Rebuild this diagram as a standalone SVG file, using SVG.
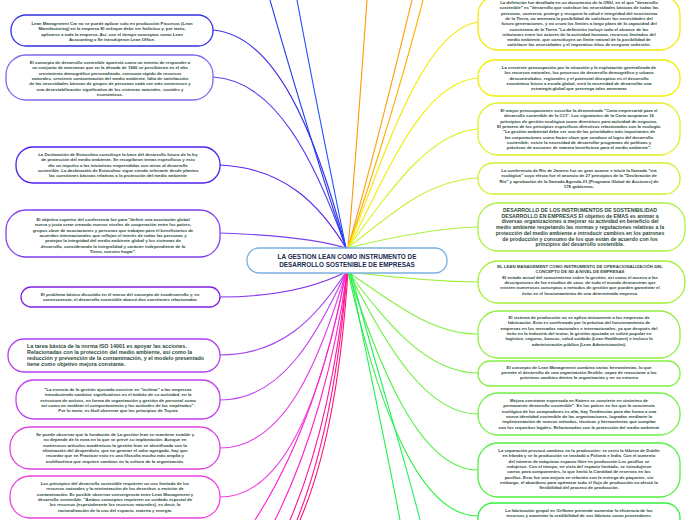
<svg xmlns="http://www.w3.org/2000/svg" width="697" height="520" viewBox="0 0 697 520">
<style>
.n{fill:#fff;stroke-width:1.3}
.t{font-family:"Liberation Sans",Arial,sans-serif;font-weight:bold;font-size:4.3px;fill:#2d4a3a;text-anchor:middle}
.tb{font-family:"Liberation Sans",Arial,sans-serif;font-weight:bold;font-size:5.4px;fill:#2d4a3a}
.c{fill:none;stroke-width:1.1}
</style>
<rect width="697" height="520" fill="#fff"/>
<g id="connectors">
<path class="c" stroke="#3a30e0" d="M213,30 C275,35 315,130 346,248"/>
<path class="c" stroke="#5a40f0" d="M213,77 C275,80 315,160 346,248"/>
<path class="c" stroke="#5a20f0" d="M220,165 C285,168 320,205 346,248"/>
<path class="c" stroke="#8040f0" d="M220,233 C280,235 320,240 346,248"/>
<path class="c" stroke="#2040f0" d="M346,248 C320,170 290,70 270,0"/>
<path class="c" stroke="#2050ff" d="M346,248 C330,170 310,70 297,0"/>
<path class="c" stroke="#ff9900" d="M348,248 C355,170 362,70 367,0"/>
<path class="c" stroke="#ffa010" d="M348,248 C370,170 395,70 412,0"/>
<path class="c" stroke="#ffb000" d="M348,248 C375,170 405,70 423,0"/>
<path class="c" stroke="#f5e800" d="M348,248 C380,170 420,30 478,22"/>
<path class="c" stroke="#f0f000" d="M348,248 C385,180 420,82 478,78"/>
<path class="c" stroke="#d8f020" d="M348,248 C390,190 430,132 478,129"/>
<path class="c" stroke="#c8f030" d="M348,248 C395,210 430,180 478,178"/>
<path class="c" stroke="#a8f040" d="M348,248 C400,235 440,228 478,227"/>
<path class="c" stroke="#8030f0" d="M346,272 C320,285 280,297 220,297"/>
<path class="c" stroke="#a040f0" d="M346,272 C315,320 280,355 220,355"/>
<path class="c" stroke="#c040f0" d="M346,272 C315,340 280,400 220,400"/>
<path class="c" stroke="#e040e8" d="M346,272 C320,360 285,448 220,448"/>
<path class="c" stroke="#f040e0" d="M346,272 C325,380 290,497 220,497"/>
<path class="c" stroke="#ff20d0" d="M346,272 C330,360 300,450 255,520"/>
<path class="c" stroke="#ff20c0" d="M347,272 C335,360 310,450 275,520"/>
<path class="c" stroke="#ff10a0" d="M347,272 C338,360 320,450 290,520"/>
<path class="c" stroke="#ff1090" d="M347,272 C340,360 325,450 297,520"/>
<path class="c" stroke="#ff1070" d="M348,272 C342,360 330,450 300,520"/>
<path class="c" stroke="#98f030" d="M348,272 C400,278 440,282 478,282"/>
<path class="c" stroke="#88f040" d="M348,272 C390,300 430,334 478,334"/>
<path class="c" stroke="#78f040" d="M348,272 C385,320 425,373 478,373"/>
<path class="c" stroke="#68f040" d="M348,272 C380,330 420,414 478,414"/>
<path class="c" stroke="#50f040" d="M348,272 C375,350 415,470 478,470"/>
<path class="c" stroke="#30f040" d="M348,272 C370,370 410,516 478,516"/>
<path class="c" stroke="#20f050" d="M350,272 C365,350 385,440 400,520"/>
<path class="c" stroke="#20f060" d="M351,272 C370,350 400,440 420,520"/>
</g>
<g id="center">
<rect x="247" y="248" width="200" height="25" rx="12" fill="#fff" stroke="#7ab0e0" stroke-width="1.3"/>
<text font-family="Liberation Sans,Arial,sans-serif" font-weight="bold" font-size="6.4" fill="#1a2a50" text-anchor="middle"><tspan x="347" y="259">LA GESTION LEAN COMO INSTRUMENTO DE</tspan><tspan x="347" y="266.5">DESARROLLO SOSTENIBLE DE EMPRESAS</tspan></text>
</g>
<g id="l1"><rect class="n" x="11" y="15" width="202" height="31" rx="15" stroke="#3030e0"/>
<text class="t"><tspan x="112" y="25">Lean Management Car no se puede aplicar solo en producción Procesos (Lean</tspan><tspan x="112" y="30.3">Manufacturing) en la empresa El enfoque debe ser holístico y, por tanto,</tspan><tspan x="112" y="35.6">aplicarse a toda la empresa. Así, con el tiempo conceptos como Lean</tspan><tspan x="112" y="40.9">Accounting o Se introdujeron Lean Office.</tspan></text></g>
<g id="l2"><rect class="n" x="6" y="55" width="207" height="45" rx="20" stroke="#7a6af0" stroke-width="2"/>
<text class="t"><tspan x="110" y="64">El concepto de desarrollo sostenible apareció como un intento de responder a</tspan><tspan x="110" y="69.3">un conjunto de amenazas que en la década de 1960 se percibieron en el alto</tspan><tspan x="110" y="74.6">crecimiento demográfico personalizado, consumo rápido de recursos</tspan><tspan x="110" y="79.9">naturales, creciente contaminación del medio ambiente, falta de satisfacción</tspan><tspan x="110" y="85.2">de las necesidades básicas de grupos de personas cada vez más numerosos y</tspan><tspan x="110" y="90.5">una desestabilización significativa de los sistemas naturales, sociales y</tspan><tspan x="110" y="95.8">económicos.</tspan></text></g>
<g id="l3"><rect class="n" x="16" y="147" width="204" height="36" rx="17" stroke="#5020f0"/>
<text class="t"><tspan x="118" y="156">La Declaración de Estocolmo constituye la base del desarrollo futuro de la ley</tspan><tspan x="118" y="161.3">de protección del medio ambiente. Se recopilaron temas específicos y esto</tspan><tspan x="118" y="166.6">dio un impulso a las iniciativas emprendidas con miras al desarrollo</tspan><tspan x="118" y="171.9">sostenible. La declaración de Estocolmo sigue siendo relevante desde planteo</tspan><tspan x="118" y="177.2">las cuestiones básicas relativas a la protección del medio ambiente</tspan></text></g>
<g id="l4"><rect class="n" x="6" y="210" width="214" height="47" rx="20" stroke="#8040f0" stroke-width="1.6"/>
<text class="t"><tspan x="113" y="221">El objetivo superior del conferencia fue para "definir una asociación global</tspan><tspan x="113" y="226.3">nueva y justa crear creando nuevos niveles de cooperación entre los países,</tspan><tspan x="113" y="231.6">grupos clave de asociaciones y personas que trabajan para el beneficiarios de</tspan><tspan x="113" y="236.9">acuerdos internacionales que reflejan el interés de todas las personas y</tspan><tspan x="113" y="242.2">protejan la integridad del medio ambiente global y los sistemas de</tspan><tspan x="113" y="247.5">desarrollo, considerando la integralidad y carácter independiente de la</tspan><tspan x="113" y="252.8">Tierra, nuestro hogar".</tspan></text></g>
<g id="l5"><rect class="n" x="21" y="287" width="199" height="20" rx="10" stroke="#8020e0"/>
<text class="t"><tspan x="120" y="296">El problema básico discutido en el marco del concepto de ecodesarrollo y, en</tspan><tspan x="120" y="301.3">consecuencia, el desarrollo sostenible abarcó dos cuestiones relacionadas</tspan></text></g>
<g id="l6"><rect class="n" x="8" y="339" width="212" height="33" rx="16" stroke="#b040f0"/>
<text class="tb"><tspan x="27" y="348">La tarea básica de la norma ISO 14001 es apoyar las acciones.</tspan><tspan x="27" y="354">Relacionadas con la protección del medio ambiente, así como la</tspan><tspan x="27" y="360">reducción y prevención de la contaminación, y el modelo presentado</tspan><tspan x="27" y="366">tiene como objetivo mejora constante.</tspan></text></g>
<g id="l7"><rect class="n" x="16" y="380" width="204" height="39" rx="18" stroke="#c040f0"/>
<text class="t"><tspan x="118" y="391">"La esencia de la gestión ajustada consiste en "inclinar" a las empresas</tspan><tspan x="118" y="396.3">introduciendo cambios significativos en el ámbito de su actividad, en la</tspan><tspan x="118" y="401.6">estructura de activos, en forma de organización y gestión de personal como</tspan><tspan x="118" y="406.9">así como en moldear el comportamiento y las actitudes de los empleados".</tspan><tspan x="118" y="412.2">Por lo tanto, es fácil observar que los principios de Toyota</tspan></text></g>
<g id="l8"><rect class="n" x="10" y="427" width="210" height="42" rx="20" stroke="#e040e0"/>
<text class="t"><tspan x="115" y="436">Se puede observar que la fundación de La gestión lean se mantiene estable y</tspan><tspan x="115" y="441.3">no depende de la zona en la que se prevé su implantación. Aunque en</tspan><tspan x="115" y="446.6">numerosos artículos académicos la gestión lean se identificada con la</tspan><tspan x="115" y="451.9">eliminación del desperdicio, que no generar el valor agregado, hay que</tspan><tspan x="115" y="457.2">recordar que en Practicar esto es una filosofía mucho más amplia y</tspan><tspan x="115" y="462.5">multifacética que requiere cambios en la cultura de la organización.</tspan></text></g>
<g id="l9"><rect class="n" x="10" y="476" width="210" height="42" rx="20" stroke="#f040e0"/>
<text class="t"><tspan x="115" y="485">Los principios del desarrollo sostenible requieren un uso limitado de los</tspan><tspan x="115" y="490.3">recursos naturales y la minimización de los desechos o emisión de</tspan><tspan x="115" y="495.6">contaminación. Es posible observar convergencia entre Lean Management y</tspan><tspan x="115" y="500.9">desarrollo sostenible. "Ambos conceptos requieren un cuidado especial de</tspan><tspan x="115" y="506.2">los recursos (especialmente los recursos naturales), es decir, la</tspan><tspan x="115" y="511.5">racionalización de la uso del espacio, materia y energía.</tspan></text></g>
<g id="r1"><rect class="n" x="478" y="-5" width="202" height="55" rx="20" stroke="#f5e800"/>
<text class="t"><tspan x="579" y="4">La definición fue detallada en un documento de la ONU, en el que "desarrollo</tspan><tspan x="579" y="9.3">sostenible" es "desarrollo que satisface las necesidades básicas de todas las</tspan><tspan x="579" y="14.6">personas, conserva, protege y recupera la salud e integridad del ecosistema</tspan><tspan x="579" y="19.9">de la Tierra, no amenaza la posibilidad de satisfacer las necesidades del</tspan><tspan x="579" y="25.2">futuro generaciones, y no cruza los límites a largo plazo de la capacidad del</tspan><tspan x="579" y="30.5">ecosistema de la Tierra "La definición incluye todo el alcance de las</tspan><tspan x="579" y="35.8">relaciones entre los actores de la actividad humana, recursos limitados del</tspan><tspan x="579" y="41.1">medio ambiente, que constituyen un límite natural de la posibilidad de</tspan><tspan x="579" y="46.4">satisfacer las necesidades y el imperativo ético de asegurar cohesión.</tspan></text></g>
<g id="r2"><rect class="n" x="478" y="60" width="202" height="36" rx="17" stroke="#f0f000"/>
<text class="t"><tspan x="579" y="69">La creciente preocupación por la situación y la explotación generalizada de</tspan><tspan x="579" y="74.3">los recursos naturales, los procesos de desarrollo demográfico y urbano</tspan><tspan x="579" y="79.6">descontrolados, regionales y el potencial disruptivo en el desarrollo</tspan><tspan x="579" y="84.9">económico futuro a escala global, creó la necesidad de desarrollar una</tspan><tspan x="579" y="90.2">estrategia global que prevenga tales amenazas</tspan></text></g>
<g id="r3"><rect class="n" x="478" y="103" width="202" height="52" rx="20" stroke="#e0f020"/>
<text class="t"><tspan x="579" y="112">El mayor preocupaciones suscribe la denominada "Carta empresarial para el</tspan><tspan x="579" y="117.3">desarrollo sostenible de la CCI". Los signatarios de la Carta aceptaron 16</tspan><tspan x="579" y="122.6">principios de gestión ecológica como directrices para actividad de negocios.</tspan><tspan x="579" y="127.9">El primero de los principios específicos directivos relacionados con la ecología:</tspan><tspan x="579" y="133.2">"La gestión ambiental debe ser una de las prioridades más importantes de</tspan><tspan x="579" y="138.5">las corporaciones como factor clave que conduce al logro del desarrollo</tspan><tspan x="579" y="143.8">sostenible; existe la necesidad de desarrollar programas de políticas y</tspan><tspan x="579" y="149.1">prácticas de acciones de manera beneficiosa para el medio ambiente".</tspan></text></g>
<g id="r4"><rect class="n" x="478" y="163" width="202" height="31" rx="15" stroke="#d0f030"/>
<text class="t"><tspan x="579" y="172">La conferencia de Río de Janeiro fue un gran avance e inició la llamada "era</tspan><tspan x="579" y="177.3">ecológica" cuyo efecto fue el anuncio de 27 principios de la "Declaración de</tspan><tspan x="579" y="182.6">Río" y aprobación de la llamada Agenda 21 (Programa Global de Acciones) de</tspan><tspan x="579" y="187.9">178 gobiernos.</tspan></text></g>
<g id="r5"><rect class="n" x="478" y="203" width="207" height="48" rx="20" stroke="#b0f040"/>
<text class="t" style="font-size:5.2px"><tspan x="580" y="212">DESARROLLO DE LOS INSTRUMENTOS DE SOSTENIBILIDAD</tspan><tspan x="580" y="217.7">DESARROLLO EN EMPRESAS El objetivo de EMAS es animar a</tspan><tspan x="580" y="223.4">diversas organizaciones a mejorar su actividad en beneficio del</tspan><tspan x="580" y="229.1">medio ambiente respetando las normas y regulaciones relativas a la</tspan><tspan x="580" y="234.8">protección del medio ambiente e introducir cambios en los patrones</tspan><tspan x="580" y="240.5">de producción y consumo de los que están de acuerdo con los</tspan><tspan x="580" y="246.2">principios del desarrollo sostenible.</tspan></text></g>
<g id="r6"><rect class="n" x="478" y="261" width="207" height="42" rx="20" stroke="#a0f030"/>
<text class="t"><tspan x="580" y="268">EL LEAN MANAGEMENT COMO INSTRUMENTO DE OPERACIONALIZACIÓN DEL</tspan><tspan x="580" y="273.3">CONCEPTO DE SD A NIVEL DE EMPRESAS</tspan><tspan x="580" y="278.6">El estado actual del conocimiento sobre la gestión, así como el acceso a las</tspan><tspan x="580" y="283.9">descripciones de los estudios de caso. de todo el mundo demuestran que</tspan><tspan x="580" y="289.2">existen numerosos conceptos o métodos de gestión que pueden garantizar el</tspan><tspan x="580" y="294.5">éxito en el funcionamiento de una determinada empresa.</tspan></text></g>
<g id="r7"><rect class="n" x="478" y="311" width="202" height="47" rx="20" stroke="#90f040"/>
<text class="t"><tspan x="579" y="319">El sistema de producción no se aplica únicamente a las empresas de</tspan><tspan x="579" y="324.3">fabricación. Esto es confirmado por la práctica del funcionamiento de</tspan><tspan x="579" y="329.6">empresas en los mercados nacionales e internacionales, ya que después del</tspan><tspan x="579" y="334.9">éxito en la industria del motor, la gestión ajustada se volvió popular en</tspan><tspan x="579" y="340.2">logística, seguros, bancos, salud cuidado (Lean Healthcare) e incluso la</tspan><tspan x="579" y="345.5">administración pública (Lean Administración).</tspan></text></g>
<g id="r8"><rect class="n" x="478" y="361" width="202" height="25" rx="12" stroke="#80f040"/>
<text class="t"><tspan x="579" y="368.5">El concepto de Lean Management combina varias herramientas, lo que</tspan><tspan x="579" y="373.8">permite el desarrollo de una organización flexible, capaz de reaccionar a los</tspan><tspan x="579" y="379.1">próximos cambios dentro la organización y en su entorno</tspan></text></g>
<g id="r9"><rect class="n" x="478" y="393" width="202" height="42" rx="20" stroke="#70f040"/>
<text class="t"><tspan x="579" y="402">Mejora constante expresada en Kaizen se convierte en sinónimo de</tspan><tspan x="579" y="407.3">permanente desarrollo sostenible". En los países en los que la conciencia</tspan><tspan x="579" y="412.6">ecológica de los compradores es alta, hay Tendencias para dar forma a una</tspan><tspan x="579" y="417.9">nueva identidad sostenible de las organizaciones, logradas mediante la</tspan><tspan x="579" y="423.2">implementación de nuevos métodos, técnicas y herramientas que cumplan</tspan><tspan x="579" y="428.5">con los requisitos legales. Relacionados con la protección del medio ambiente</tspan></text></g>
<g id="r10"><rect class="n" x="478" y="443" width="202" height="54" rx="20" stroke="#50f040"/>
<text class="t"><tspan x="579" y="452">La separación provocó cambios en la producción: se cerró la fábrica de Dublín</tspan><tspan x="579" y="457.3">en Irlanda y se la producción se trasladó a Polonia e India. Con el aumento</tspan><tspan x="579" y="462.6">del número de máquinas espacio libre en producción Los pasillos se</tspan><tspan x="579" y="467.9">redujeron. Con el tiempo, en vista del espacio limitado, se introdujeron</tspan><tspan x="579" y="473.2">carros para componentes, lo que limitó la Cantidad de reservas en los</tspan><tspan x="579" y="478.5">pasillos. Esto fue una mejora en relación con la entrega de paquetes, sin</tspan><tspan x="579" y="483.8">embargo, el abandono para optimizar todo el flujo de producción no afectó la</tspan><tspan x="579" y="489.1">flexibilidad del proceso de producción.</tspan></text></g>
<g id="r11"><rect class="n" x="478" y="503" width="202" height="30" rx="15" stroke="#30f040"/>
<text class="t"><tspan x="579" y="512">La fabricación grupal en Oriflame pretende aumentar la eficiencia de los</tspan><tspan x="579" y="517.3">recursos y aumentar la credibilidad de sus fábricas como proveedores.</tspan></text></g>
</svg>
